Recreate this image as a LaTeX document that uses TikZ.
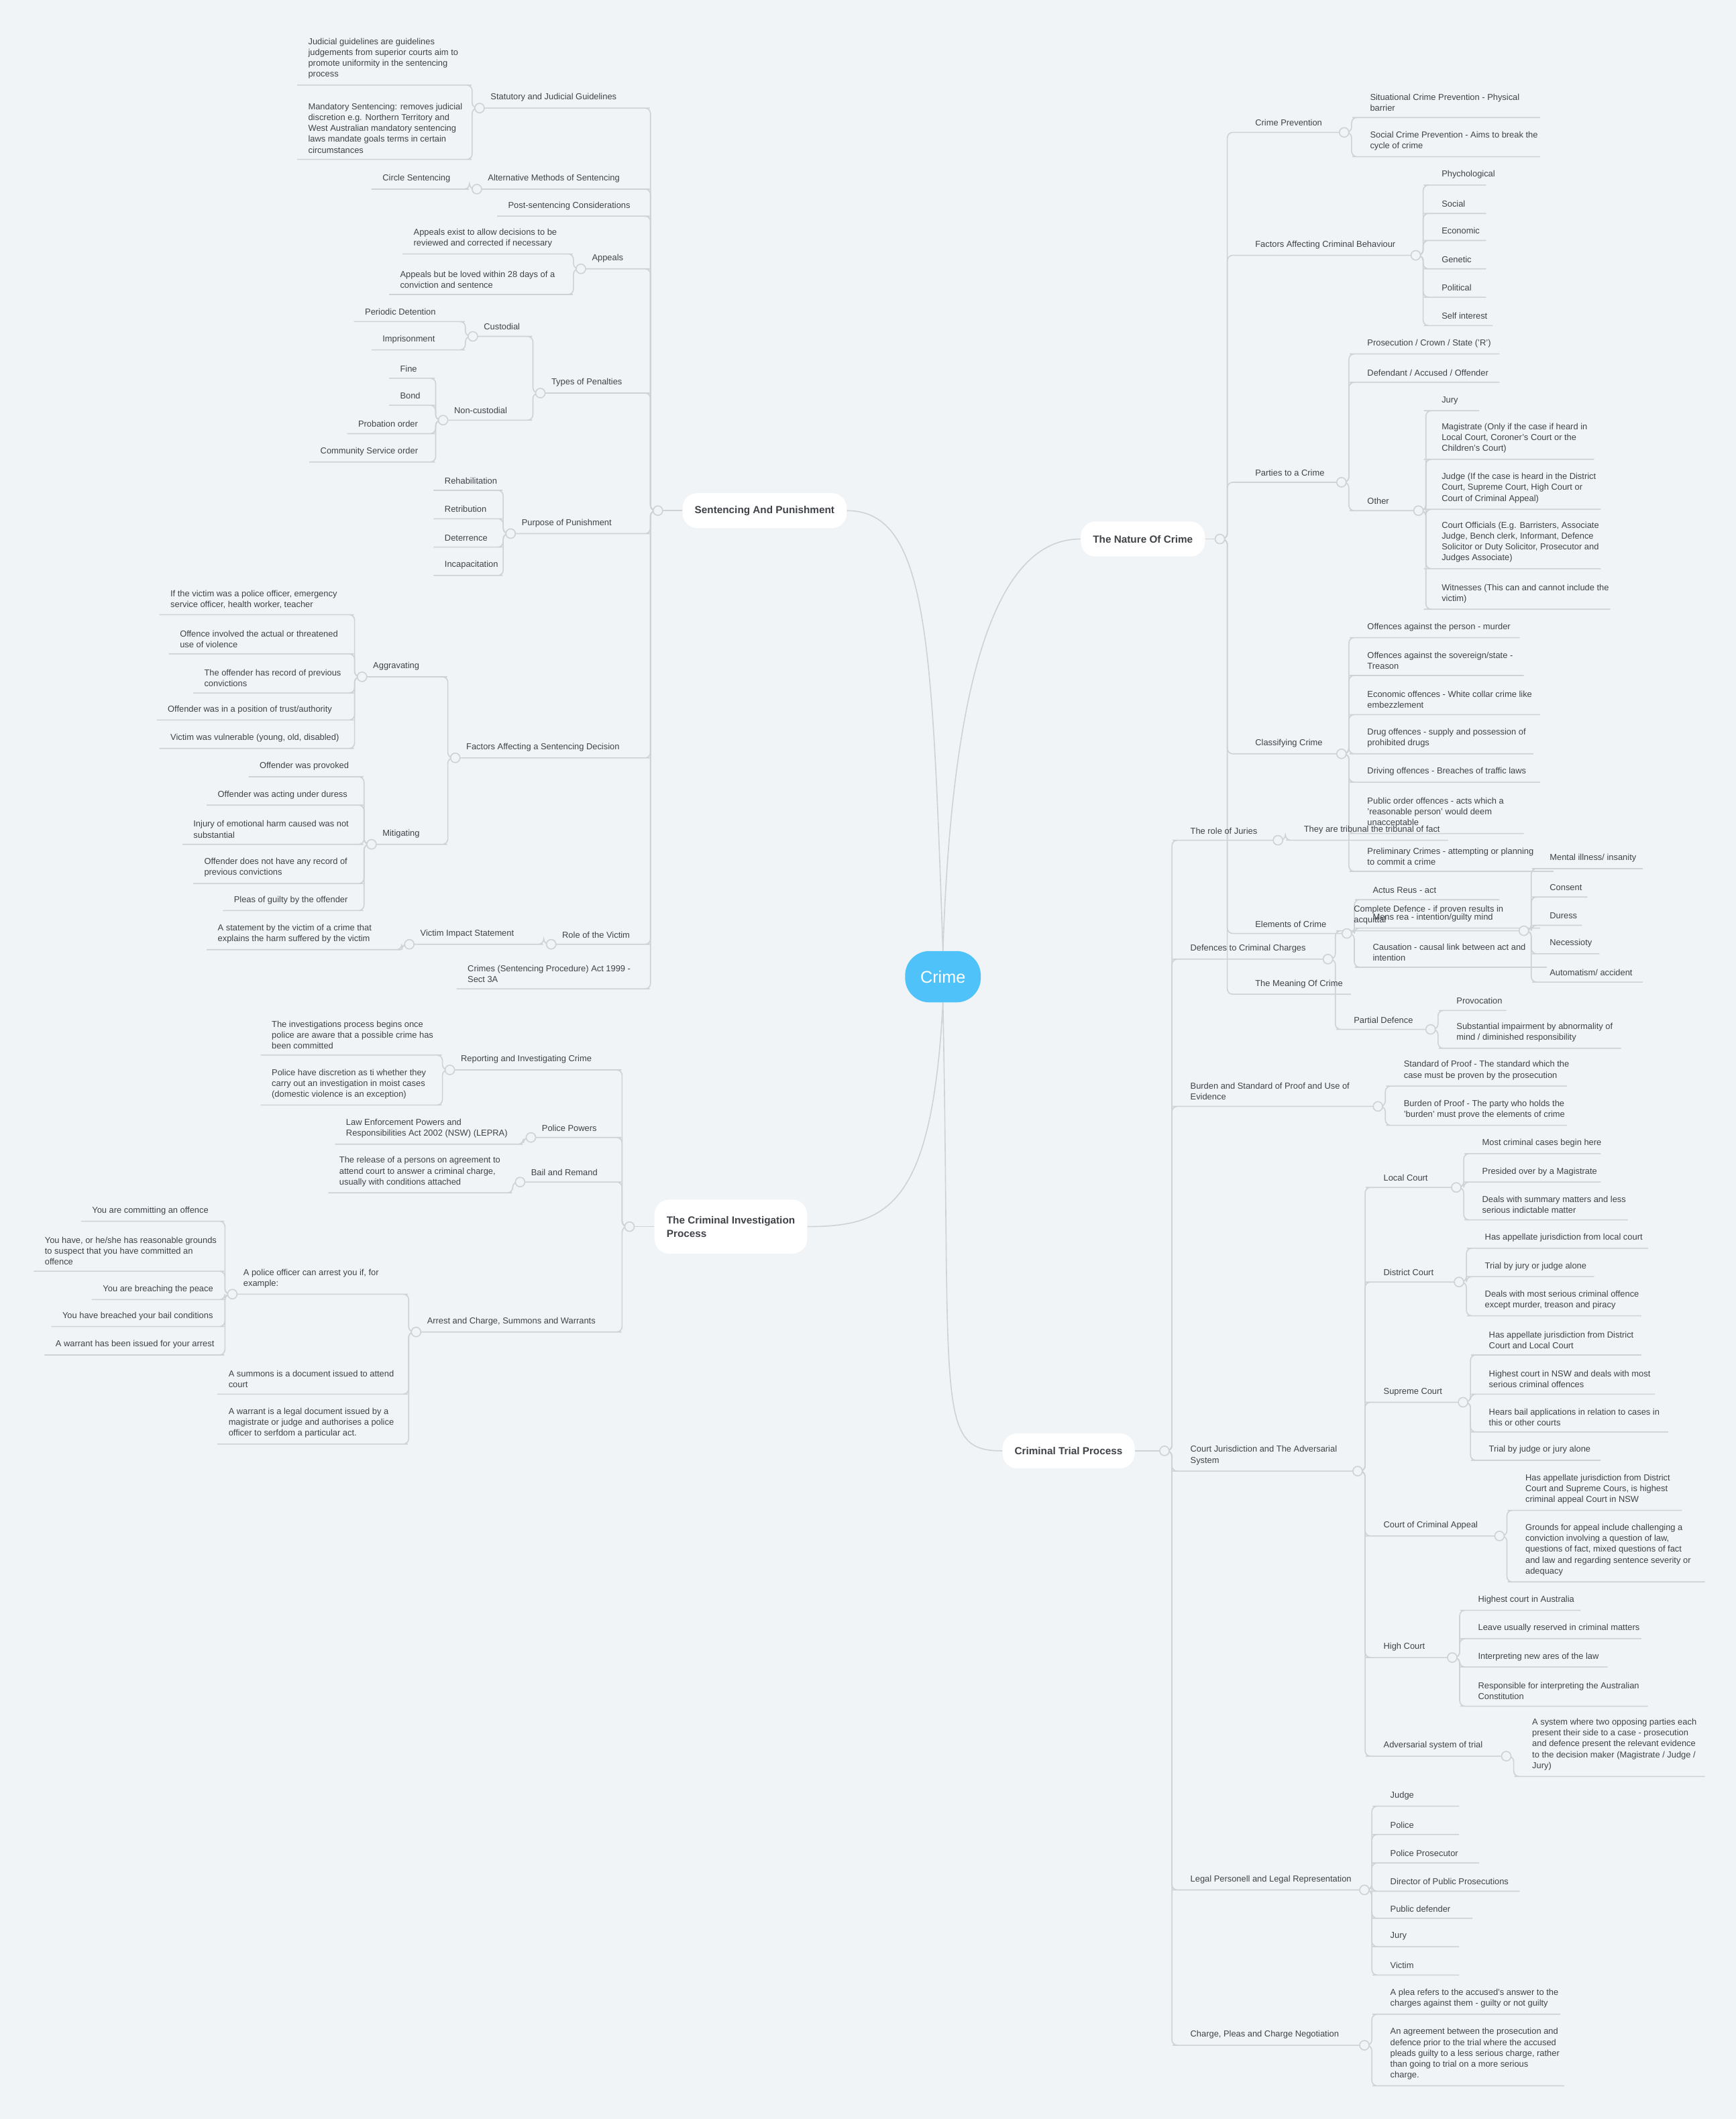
\documentclass[tikz,border=0pt]{standalone}
\usepackage{fontspec}
\setmainfont{Liberation Sans}
\definecolor{bg}{HTML}{F0F4F7}
\definecolor{lncol}{HTML}{CDD2D6}
\definecolor{txt}{HTML}{3F4247}
\definecolor{crimec}{HTML}{4FC3F9}
\pgfdeclarelayer{back}\pgfdeclarelayer{bgl}
\pgfsetlayers{back,bgl,main}
\tikzset{
 ln/.style={draw=lncol,line width=0.8pt,rounded corners=4pt},
 lbl/.style={anchor=south west,align=left,inner sep=1pt,text=txt,font=\fontsize{6.4}{8}\selectfont},
 jc/.style={circle,draw=lncol,fill=bg,line width=0.8pt,minimum size=7pt,inner sep=0pt},
 mainbox/.style={fill=white,rounded corners=11pt,text=txt,font=\fontsize{7.6}{10}\selectfont\bfseries,minimum height=26pt,inner xsep=9pt,align=left},
 crimebox/.style={fill=crimec,rounded corners=18pt,text=white,font=\fontsize{12.5}{14}\selectfont,minimum width=56pt,minimum height=38pt}
}
\newcommand\Ritem[6]{%
 \coordinate (#1s) at (#3,#5); \coordinate (#1e) at (#4,#5);
 \begin{pgfonlayer}{bgl}\draw[ln] (#2.center) -- ++(5.5,0) |- (#1s) -- (#1e);\end{pgfonlayer}
 \node[lbl] (#1) at (#3+8,#5-3.5) {#6};}
\newcommand\Litem[6]{%
 \coordinate (#1s) at (#3,#5); \coordinate (#1e) at (#4,#5);
 \begin{pgfonlayer}{bgl}\draw[ln] (#2.center) -- ++(-5.5,0) |- (#1e) -- (#1s);\end{pgfonlayer}
 \node[lbl] (#1) at (#3+7,#5-3.5) {#6};}
\newcommand\Jc[2]{\node[jc] (#1) at (#2) {};}
\begin{document}
\begin{tikzpicture}[x=1pt,y=-1pt]
\useasboundingbox (0,0) rectangle (1285,1568.6);
\begin{pgfonlayer}{back}\fill[bg] (0,0) rectangle (1285,1568.6);\end{pgfonlayer}
% main nodes
\node[crimebox] (crime) at (698,723) {Crime};
\node[mainbox] (sp) at (566,378) {Sentencing And Punishment};
\node[mainbox] (nat) at (846,399) {The Nature Of Crime};
\node[mainbox,minimum height=40pt] (ci) at (541,908) {The Criminal Investigation\\Process};
\node[mainbox] (ctp) at (791,1074) {Criminal Trial Process};
\begin{pgfonlayer}{bgl}
\draw[ln] (crime.north) .. controls +(-8,-230) and +(60,0) .. (sp.east);
\draw[ln] (crime.north) .. controls +(8,-240) and +(-50,0) .. (nat.west);
\draw[ln] (crime.south) .. controls +(-8,150) and +(60,0) .. (ci.east);
\draw[ln] (crime.south) .. controls +(6,300) and +(-50,0) .. (ctp.west);
\end{pgfonlayer}
\coordinate (spP) at (487,378); \draw[ln] (sp.west) -- (spP); \Jc{spC}{spP}
\coordinate (natP) at (903,399); \draw[ln] (nat.east) -- (natP); \Jc{natC}{natP}
\coordinate (ciP) at (466,908); \draw[ln] (ci.west) -- (ciP); \Jc{ciC}{ciP}
\coordinate (ctpP) at (862,1074); \draw[ln] (ctp.east) -- (ctpP); \Jc{ctpC}{ctpP}

% ===== The Nature Of Crime
\Ritem{cp}{natC}{920}{995}{98}{Crime Prevention}\Jc{cpC}{cpe}
\Ritem{cpa}{cpC}{1005}{1140}{87}{Situational Crime Prevention - Physical\\barrier}
\Ritem{cpb}{cpC}{1005}{1140}{116}{Social Crime Prevention - Aims to break the\\cycle of crime}
\Ritem{fa}{natC}{920}{1048}{189}{Factors Affecting Criminal Behaviour}\Jc{faC}{fae}
\Ritem{faa}{faC}{1058}{1100}{137}{Phychological}
\Ritem{fab}{faC}{1058}{1100}{158}{Social}
\Ritem{fac}{faC}{1058}{1100}{178}{Economic}
\Ritem{fad}{faC}{1058}{1100}{199}{Genetic}
\Ritem{fae2}{faC}{1058}{1100}{220}{Political}
\Ritem{faf}{faC}{1058}{1105}{241}{Self interest}
\Ritem{pc}{natC}{920}{993}{357}{Parties to a Crime}\Jc{pcC}{pce}
\Ritem{pca}{pcC}{1003}{1110}{262}{Prosecution / Crown / State ('R')}
\Ritem{pcb}{pcC}{1003}{1110}{283}{Defendant / Accused / Offender}
\Ritem{oth}{pcC}{1003}{1050}{378}{Other}\Jc{othC}{othe}
\Ritem{oa}{othC}{1058}{1095}{304}{Jury}
\Ritem{ob}{othC}{1058}{1180}{340}{Magistrate (Only if the case if heard in\\Local Court, Coroner's Court or the\\Children's Court)}
\Ritem{oc}{othC}{1058}{1185}{377}{Judge (If the case is heard in the District\\Court, Supreme Court, High Court or\\Court of Criminal Appeal)}
\Ritem{od}{othC}{1058}{1185}{421}{Court Officials (E.g. Barristers, Associate\\Judge, Bench clerk, Informant, Defence\\Solicitor or Duty Solicitor, Prosecutor and\\Judges Associate)}
\Ritem{oe}{othC}{1058}{1192}{451}{Witnesses (This can and cannot include the\\victim)}
\Ritem{cc}{natC}{920}{993}{558}{Classifying Crime}\Jc{ccC}{cce}
\Ritem{cca}{ccC}{1003}{1125}{472}{Offences against the person - murder}
\Ritem{ccb}{ccC}{1003}{1128}{500}{Offences against the sovereign/state -\\Treason}
\Ritem{ccd}{ccC}{1003}{1140}{529}{Economic offences - White collar crime like\\embezzlement}
\Ritem{cce2}{ccC}{1003}{1135}{558}{Drug offences - supply and possession of\\prohibited drugs}
\Ritem{ccf}{ccC}{1003}{1140}{579}{Driving offences - Breaches of traffic laws}
\Ritem{ccg}{ccC}{1003}{1128}{617}{Public order offences - acts which a\\'reasonable person' would deem\\unacceptable}
\Ritem{cch}{ccC}{1003}{1150}{645}{Preliminary Crimes - attempting or planning\\to commit a crime}
\Ritem{el}{natC}{920}{997}{691}{Elements of Crime}\Jc{elC}{ele}
\Ritem{ela}{elC}{1007}{1110}{666}{Actus Reus - act}
\Ritem{elb}{elC}{1007}{1140}{687}{Mens rea - intention/guilty mind}
\Ritem{elc}{elC}{1007}{1145}{716}{Causation - causal link between act and\\intention}
\Ritem{mc}{natC}{920}{1000}{736}{The Meaning Of Crime}

% ===== Criminal Trial Process
\Ritem{rj}{ctpC}{872}{946}{622}{The role of Juries}\Jc{rjC}{rje}
\Ritem{rja}{rjC}{956}{1072}{622}{They are tribunal the tribunal of fact}
\Ritem{df}{ctpC}{872}{983}{710}{Defences to Criminal Charges}\Jc{dfC}{dfe}
\Ritem{cd}{dfC}{993}{1128}{689}{Complete Defence - if proven results in\\acquittal}\Jc{cdC}{cde}
\Ritem{cda}{cdC}{1138}{1216}{643}{Mental illness/ insanity}
\Ritem{cdb}{cdC}{1138}{1175}{664}{Consent}
\Ritem{cdc}{cdC}{1138}{1171}{685}{Duress}
\Ritem{cdd}{cdC}{1138}{1184}{706}{Necessioty}
\Ritem{cdf}{cdC}{1138}{1216}{727}{Automatism/ accident}
\Ritem{pd}{dfC}{993}{1059}{762}{Partial Defence}\Jc{pdC}{pde}
\Ritem{pda}{pdC}{1069}{1115}{748}{Provocation}
\Ritem{pdb}{pdC}{1069}{1200}{776}{Substantial impairment by abnormality of\\mind / diminished responsibility}
\Ritem{bs}{ctpC}{872}{1020}{819}{Burden and Standard of Proof and Use of\\Evidence}\Jc{bsC}{bse}
\Ritem{bsa}{bsC}{1030}{1160}{804}{Standard of Proof - The standard which the\\case must be proven by the prosecution}
\Ritem{bsb}{bsC}{1030}{1160}{833}{Burden of Proof - The party who holds the\\'burden' must prove the elements of crime}
\Ritem{cj}{ctpC}{872}{1005}{1089}{Court Jurisdiction and The Adversarial\\System}\Jc{cjC}{cje}
\Ritem{lc}{cjC}{1015}{1078}{879}{Local Court}\Jc{lcC}{lce}
\Ritem{lca}{lcC}{1088}{1185}{854}{Most criminal cases begin here}
\Ritem{lcb}{lcC}{1088}{1185}{875}{Presided over by a Magistrate}
\Ritem{lcc}{lcC}{1088}{1205}{903}{Deals with summary matters and less\\serious indictable matter}
\Ritem{dc}{cjC}{1015}{1080}{949}{District Court}\Jc{dcC}{dce}
\Ritem{dca}{dcC}{1090}{1220}{924}{Has appellate jurisdiction from local court}
\Ritem{dcb}{dcC}{1090}{1180}{945}{Trial by jury or judge alone}
\Ritem{dcc}{dcC}{1090}{1215}{974}{Deals with most serious criminal offence\\except murder, treason and piracy}
\Ritem{sc}{cjC}{1015}{1083}{1038}{Supreme Court}\Jc{scC}{sce}
\Ritem{sca}{scC}{1093}{1215}{1003}{Has appellate jurisdiction from District\\Court and Local Court}
\Ritem{scb}{scC}{1093}{1225}{1032}{Highest court in NSW and deals with most\\serious criminal offences}
\Ritem{scc}{scC}{1093}{1235}{1060}{Hears bail applications in relation to cases in\\this or other courts}
\Ritem{scd}{scC}{1093}{1185}{1081}{Trial by judge or jury alone}
\Ritem{ca}{cjC}{1015}{1110}{1137}{Court of Criminal Appeal}\Jc{caC}{cae}
\Ritem{caa}{caC}{1120}{1245}{1118}{Has appellate jurisdiction from District\\Court and Supreme Cours, is highest\\criminal appeal Court in NSW}
\Ritem{cab}{caC}{1120}{1262}{1171}{Grounds for appeal include challenging a\\conviction involving a question of law,\\questions of fact, mixed questions of fact\\and law and regarding sentence severity or\\adequacy}
\Ritem{hc}{cjC}{1015}{1075}{1227}{High Court}\Jc{hcC}{hce}
\Ritem{hca}{hcC}{1085}{1170}{1192}{Highest court in Australia}
\Ritem{hcb}{hcC}{1085}{1215}{1213}{Leave usually reserved in criminal matters}
\Ritem{hcc}{hcC}{1085}{1190}{1234}{Interpreting new ares of the law}
\Ritem{hcd}{hcC}{1085}{1220}{1263}{Responsible for interpreting the Australian\\Constitution}
\Ritem{as}{cjC}{1015}{1115}{1300}{Adversarial system of trial}\Jc{asC}{ase}
\Ritem{asa}{asC}{1125}{1262}{1315}{A system where two opposing parties each\\present their side to a case - prosecution\\and defence present the relevant evidence\\to the decision maker (Magistrate / Judge /\\Jury)}
\Ritem{lp}{ctpC}{872}{1010}{1399}{Legal Personell and Legal Representation}\Jc{lpC}{lpe}
\Ritem{lpa}{lpC}{1020}{1080}{1337}{Judge}
\Ritem{lpb}{lpC}{1020}{1080}{1358}{Police}
\Ritem{lpc}{lpC}{1020}{1095}{1379}{Police Prosecutor}
\Ritem{lpd}{lpC}{1020}{1125}{1400}{Director of Public Prosecutions}
\Ritem{lpf}{lpC}{1020}{1090}{1420}{Public defender}
\Ritem{lpg}{lpC}{1020}{1080}{1441}{Jury}
\Ritem{lph}{lpC}{1020}{1080}{1462}{Victim}
\Ritem{cn}{ctpC}{872}{1010}{1514}{Charge, Pleas and Charge Negotiation}\Jc{cnC}{cne}
\Ritem{cna}{cnC}{1020}{1155}{1491}{A plea refers to the accused's answer to the\\charges against them - guilty or not guilty}
\Ritem{cnb}{cnC}{1020}{1158}{1544}{An agreement between the prosecution and\\defence prior to the trial where the accused\\pleads guilty to a less serious charge, rather\\than going to trial on a more serious\\charge.}

% ===== Sentencing And Punishment
\Litem{sj}{spC}{355}{477}{80}{Statutory and Judicial Guidelines}\Jc{sjC}{sjs}
\Litem{sja}{sjC}{220}{345}{63}{Judicial guidelines are guidelines\\judgements from superior courts aim to\\promote uniformity in the sentencing\\process}
\Litem{sjb}{sjC}{220}{345}{118}{Mandatory Sentencing: removes judicial\\discretion e.g. Northern Territory  and\\West Australian mandatory sentencing\\laws mandate goals terms in certain\\circumstances}
\Litem{am}{spC}{353}{477}{140}{Alternative Methods of Sentencing}\Jc{amC}{ams}
\Litem{ama}{amC}{275}{343}{140}{Circle Sentencing}
\Litem{ps}{spC}{368}{477}{160}{Post-sentencing Considerations}
\Litem{ap}{spC}{430}{477}{199}{Appeals}\Jc{apC}{aps}
\Litem{apa}{apC}{298}{420}{188}{Appeals exist to allow decisions to be\\reviewed and corrected if necessary}
\Litem{apb}{apC}{288}{420}{218}{Appeals but be loved within 28 days of a\\conviction and sentence}
\Litem{tp}{spC}{400}{477}{291}{Types of Penalties}\Jc{tpC}{tps}
\Litem{cu}{tpC}{350}{390}{249}{Custodial}\Jc{cuC}{cus}
\Litem{cua}{cuC}{262}{340}{238}{Periodic Detention}
\Litem{cub}{cuC}{275}{340}{259}{Imprisonment}
\Litem{nc}{tpC}{328}{390}{311}{Non-custodial}\Jc{ncC}{ncs}
\Litem{nca}{ncC}{288}{318}{280}{Fine}
\Litem{ncb}{ncC}{288}{318}{300}{Bond}
\Litem{ncc}{ncC}{257}{318}{321}{Probation order}
\Litem{ncd}{ncC}{229}{318}{342}{Community Service order}
\Litem{pp}{spC}{378}{477}{395}{Purpose of Punishment}\Jc{ppC}{pps}
\Litem{ppa}{ppC}{321}{368}{363}{Rehabilitation}
\Litem{ppb}{ppC}{321}{368}{384}{Retribution}
\Litem{ppc}{ppC}{321}{368}{405}{Deterrence}
\Litem{ppd}{ppC}{321}{368}{426}{Incapacitation}
\Litem{fs}{spC}{337}{477}{561}{Factors Affecting a Sentencing Decision}\Jc{fsC}{fss}
\Litem{ag}{fsC}{268}{327}{501}{Aggravating}\Jc{agC}{ags}
\Litem{aga}{agC}{118}{258}{455}{If the victim was a police officer, emergency\\service officer, health worker, teacher}
\Litem{agb}{agC}{125}{258}{484}{Offence involved the actual or threatened\\use of violence}
\Litem{agc}{agC}{143}{258}{513}{The offender has record of previous\\convictions}
\Litem{agd}{agC}{116}{258}{533}{Offender was  in a position of trust/authority}
\Litem{agf}{agC}{118}{258}{554}{Victim was vulnerable (young, old, disabled)}
\Litem{mi}{fsC}{275}{327}{625}{Mitigating}\Jc{miC}{mis}
\Litem{mia}{miC}{184}{265}{575}{Offender was provoked}
\Litem{mib}{miC}{153}{265}{596}{Offender was acting under duress}
\Litem{mic}{miC}{135}{265}{625}{Injury of emotional harm caused was not\\substantial}
\Litem{mid}{miC}{143}{265}{654}{Offender does not have any record of\\previous convictions}
\Litem{mif}{miC}{165}{265}{674}{Pleas of guilty by the offender}
\Litem{rv}{spC}{408}{477}{699}{Role of the Victim}\Jc{rvC}{rvs}
\Litem{vi}{rvC}{303}{398}{699}{Victim Impact Statement}\Jc{viC}{vis}
\Litem{via}{viC}{153}{293}{703}{A statement by the victim of a crime that\\explains the harm suffered by the victim}
\Litem{spa}{spC}{338}{477}{732}{Crimes (Sentencing Procedure) Act 1999 -\\Sect 3A}

% ===== The Criminal Investigation Process
\Litem{ri}{ciC}{333}{456}{792}{Reporting and Investigating Crime}\Jc{riC}{ris}
\Litem{ria}{riC}{193}{323}{781}{The investigations process begins once\\police are aware that a possible crime has\\been committed}
\Litem{rib}{riC}{193}{323}{818}{Police have discretion as ti whether they\\carry out an investigation in moist cases\\(domestic violence is an exception)}
\Litem{pw}{ciC}{393}{456}{842}{Police Powers}\Jc{pwC}{pws}
\Litem{pwa}{pwC}{248}{383}{847}{Law Enforcement Powers and\\Responsibilities Act 2002 (NSW) (LEPRA)}
\Litem{br}{ciC}{385}{456}{875}{Bail and Remand}\Jc{brC}{brs}
\Litem{bra}{brC}{243}{375}{883}{The release of a persons on agreement to\\attend court to answer a criminal charge,\\usually with conditions attached}
\Litem{ac}{ciC}{308}{456}{986}{Arrest and Charge, Summons and Warrants}\Jc{acC}{acs}
\Litem{po}{acC}{172}{298}{958}{A police officer can arrest you if, for\\example:}\Jc{poC}{pos}
\Litem{poa}{poC}{60}{162}{904}{You are committing an offence}
\Litem{pob}{poC}{25}{162}{941}{You have, or he/she has reasonable grounds\\to suspect that you have committed an\\offence}
\Litem{poc}{poC}{68}{162}{962}{You are breaching the peace}
\Litem{pod}{poC}{38}{162}{982}{You have breached your bail conditions}
\Litem{pof}{poC}{33}{162}{1003}{A warrant has been issued for your arrest}
\Litem{aca}{acC}{161}{298}{1032}{A summons is a document issued to attend\\court}
\Litem{acb}{acC}{161}{298}{1069}{A warrant is a legal document issued by a\\magistrate or judge and authorises a police\\officer to serfdom a particular act.}
\end{tikzpicture}
\end{document}
